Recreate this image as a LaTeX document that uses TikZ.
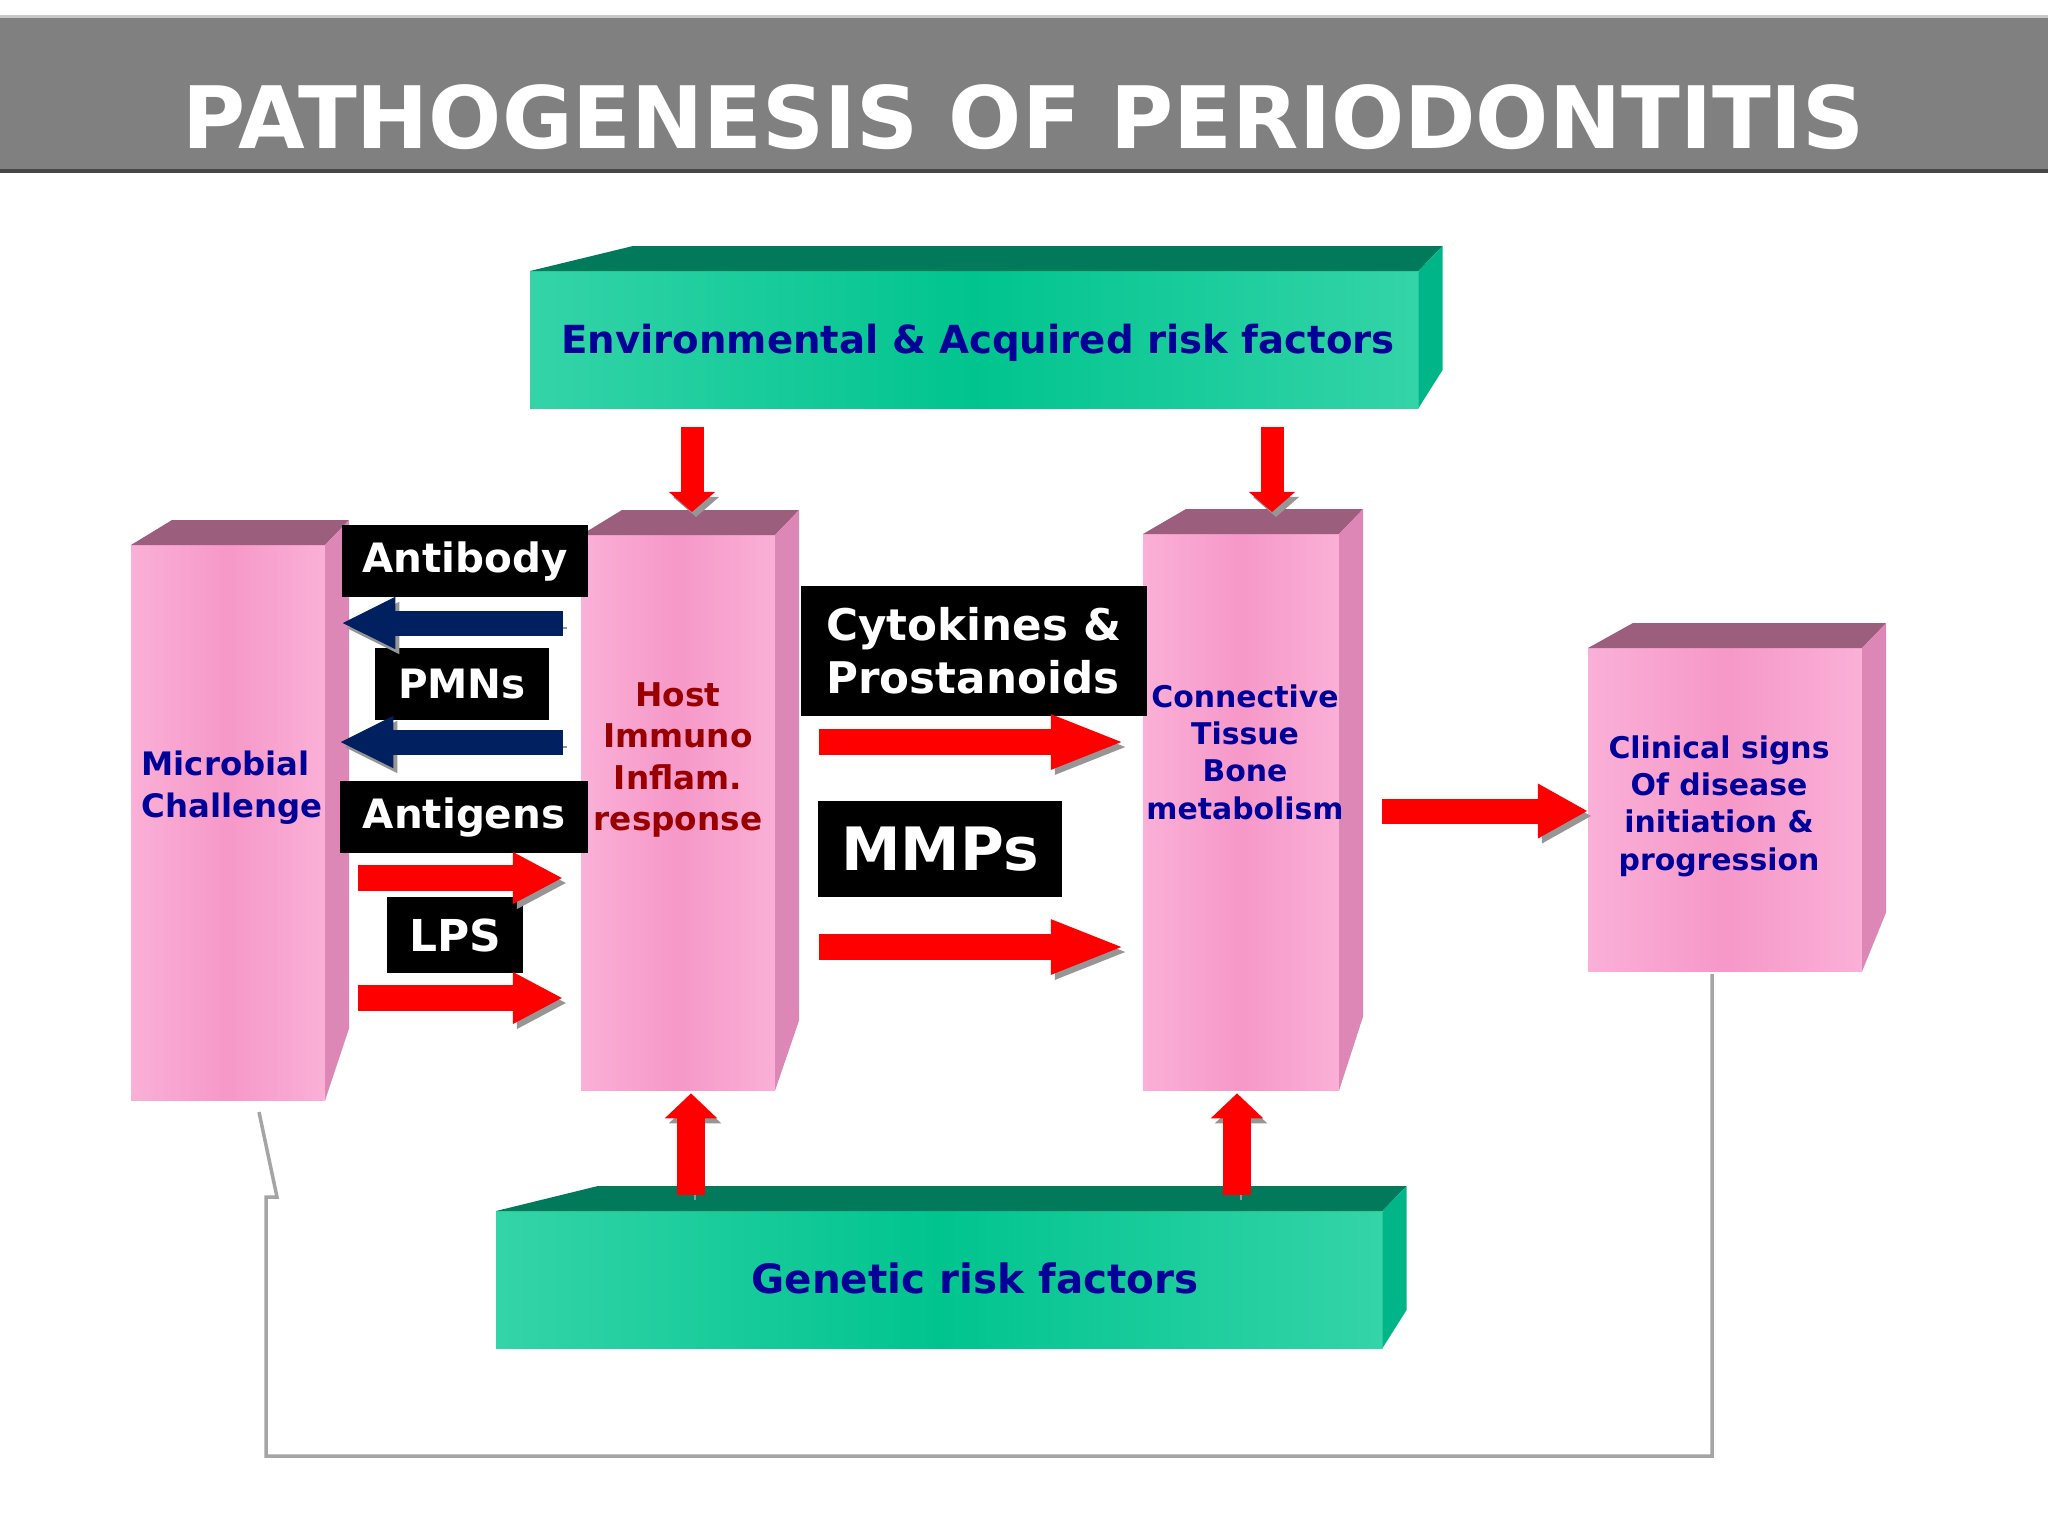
\documentclass[tikz,border=0pt]{standalone}
\usepackage{fontspec}
\setmainfont{DejaVu Sans}
\usetikzlibrary{calc,arrows.meta}

\definecolor{titlegrey}{RGB}{128,128,128}
\definecolor{titlelight}{RGB}{200,200,200}
\definecolor{titledark}{RGB}{70,70,70}
\definecolor{navytext}{RGB}{0,0,153}
\definecolor{hostred}{RGB}{153,0,0}
\definecolor{pinkedge}{RGB}{250,176,215}
\definecolor{pinkmid}{RGB}{246,152,200}
\definecolor{pinktop}{RGB}{156,94,125}
\definecolor{pinkside}{RGB}{221,135,183}
\definecolor{greenedge}{RGB}{52,212,168}
\definecolor{greenmid}{RGB}{0,196,142}
\definecolor{greentop}{RGB}{0,122,90}
\definecolor{greenside}{RGB}{0,181,136}
\definecolor{arrowred}{RGB}{255,0,0}
\definecolor{arrownavy}{RGB}{0,32,96}
\definecolor{shadowgrey}{RGB}{150,150,150}
\definecolor{linegrey}{RGB}{165,165,165}

% top and side faces of a box drawn behind its front node
\newcommand{\prismfaces}[5]{%
  \fill[#4] (#1.north west) -- ($(#1.north west)+(#2,-25)$)
    -- ($(#1.north east)+(24,-25)$) -- (#1.north east) -- cycle;
  \fill[#5] (#1.north east) -- ($(#1.north east)+(24,-25)$)
    -- ($(#1.south east)+(24,-#3)$) -- (#1.south east) -- cycle;
}

\begin{document}
\begin{tikzpicture}[x=0.01cm,y=-0.01cm]
    \tikzset{
        pinkbox/.style={anchor=north west, inner sep=0pt, outer sep=0pt,
            left color=pinkedge, right color=pinkedge, middle color=pinkmid},
        greenbox/.style={anchor=north west, inner sep=0pt, outer sep=0pt,
            left color=greenedge, right color=greenedge, middle color=greenmid},
        titletext/.style={anchor=base, inner sep=0pt, text=white,
            font=\bfseries\fontsize{24.5}{29}\selectfont},
        risktext/.style={anchor=base, inner sep=0pt, text=navytext,
            font=\bfseries\fontsize{11}{13}\selectfont},
        boxtext/.style={inner sep=0pt, align=center, text=navytext,
            font=\bfseries\fontsize{8.5}{10.6}\selectfont},
        blacklabel/.style={fill=black, text=white, inner sep=0pt,
            font=\bfseries\fontsize{11.5}{14}\selectfont},
        redarrow/.style={draw=arrowred, line width=0.26cm,
            -{Triangle[length=0.5cm,width=0.48cm]},
            preaction={draw=shadowgrey, transform canvas={shift={(0.04cm,-0.05cm)}}}},
        bluearrow/.style={redarrow, draw=arrownavy, line width=0.25cm,
            -{Triangle[length=0.54cm,width=0.48cm]}},
        feedback/.style={draw=linegrey, line width=0.035cm}
    }

    \useasboundingbox (0,0) rectangle (2048,1536);
    \fill[white] (0,0) rectangle (2048,1536);

    % title bar
    \fill[titlegrey] (0,16) rectangle (2048,170);
    \draw[titlelight, line width=0.03cm] (0,16) -- (2048,16);
    \draw[titledark, line width=0.04cm] (0,171) -- (2048,171);
    \node[titletext] (title) at (1024,148) {PATHOGENESIS OF PERIODONTITIS};

    % risk factor boxes
    \node[greenbox, minimum width=8.88cm, minimum height=1.37cm] (env) at (530,271) {};
    \prismfaces{env}{103}{38}{greentop}{greenside}
    \node[greenbox, minimum width=8.86cm, minimum height=1.37cm] (gen) at (496,1211) {};
    \prismfaces{gen}{102}{38}{greentop}{greenside}
    \node[risktext] (envtext) at (978,353) {Environmental \& Acquired risk factors};
    \node[risktext, font=\bfseries\fontsize{11.5}{13}\selectfont] (gentext) at (975,1293) {Genetic risk factors};

    % pink columns
    \node[pinkbox, minimum width=1.94cm, minimum height=5.55cm] (mic) at (131,545) {};
    \prismfaces{mic}{41}{72}{pinktop}{pinkside}
    \node[pinkbox, minimum width=1.94cm, minimum height=5.55cm] (host) at (581,535) {};
    \prismfaces{host}{41}{70}{pinktop}{pinkside}
    \node[pinkbox, minimum width=1.96cm, minimum height=5.56cm] (conn) at (1143,534) {};
    \prismfaces{conn}{43}{74}{pinktop}{pinkside}
    \node[pinkbox, minimum width=2.74cm, minimum height=3.23cm] (clin) at (1588,648) {};
    \prismfaces{clin}{45}{59}{pinktop}{pinkside}

    \node[boxtext, align=left, anchor=west, font=\bfseries\fontsize{9.2}{11.9}\selectfont]
        (mictext) at (141,788) {Microbial\\Challenge};
    \node[boxtext, text=hostred, font=\bfseries\fontsize{9.3}{11.7}\selectfont]
        (hosttext) at (678,760) {Host\\Immuno\\Inflam.\\response};
    \node[boxtext] (conntext) at (1245,752) {Connective\\Tissue\\Bone\\metabolism};
    \node[boxtext] (clintext) at (1719,806) {Clinical signs\\Of disease\\initiation \&\\progression};

    % mediator labels
    \node[blacklabel, minimum width=2.46cm, minimum height=0.72cm] (antibody) at (465,561) {Antibody};
    \node[blacklabel, minimum width=1.73cm, minimum height=0.72cm] (pmns) at (462,684) {PMNs};
    \node[blacklabel, minimum width=2.48cm, minimum height=0.71cm] (antigens) at (464,817) {Antigens};
    \node[blacklabel, minimum width=1.36cm, minimum height=0.76cm,
        font=\bfseries\fontsize{12.5}{15}\selectfont] (lps) at (455,935) {LPS};
    \node[blacklabel, minimum width=3.45cm, minimum height=1.3cm, align=left,
        font=\bfseries\fontsize{12.4}{15}\selectfont] (cyto) at (974,651) {Cytokines \&\\Prostanoids};
    \node[blacklabel, minimum width=2.43cm, minimum height=0.95cm,
        font=\bfseries\fontsize{17}{20}\selectfont] (mmps) at (940,849) {MMPs};

    % host response back to the microbes
    \coordinate (abA) at (563,623);
    \coordinate (abB) at (563,742);
    \draw[bluearrow] (abA) -- (abA -| antibody.west);
    \draw[bluearrow] (abB) -- (abB -| antigens.west);

    % microbial products into the host
    \coordinate (agA) at (358,878);
    \coordinate (agB) at (358,998);
    \draw[redarrow, shorten >=0.18cm] (agA) -- (agA -| host.west);
    \draw[redarrow, shorten >=0.18cm] (agB) -- (agB -| host.west);

    % mediators to tissue
    \coordinate (ckA) at (819,742);
    \coordinate (mmA) at (819,947);
    \draw[redarrow, -{Triangle[length=0.75cm,width=0.49cm]}, shorten >=0.17cm] (ckA) -- (ckA -| conn.west);
    \draw[redarrow, -{Triangle[length=0.75cm,width=0.49cm]}, shorten >=0.17cm] (mmA) -- (mmA -| conn.west);

    % tissue to clinical signs
    \coordinate (clA) at (1382,811);
    \draw[redarrow, line width=0.25cm, -{Triangle[length=0.5cm,width=0.51cm]}] (clA) -- (clA -| clin.west);

    % risk factors acting on host and tissue
    \coordinate (enA) at (692,427);
    \coordinate (enB) at (1272,427);
    \draw[redarrow, line width=0.23cm, -{Triangle[length=0.2cm,width=0.45cm]}, shorten >=0.23cm] (enA) -- (enA |- host.north);
    \draw[redarrow, line width=0.23cm, -{Triangle[length=0.2cm,width=0.45cm]}, shorten >=0.22cm] (enB) -- (enB |- conn.north);
    \coordinate (geA) at (691,1195);
    \coordinate (geB) at (1237,1195);
    \draw[redarrow, line width=0.28cm, -{Triangle[length=0.25cm,width=0.51cm]}, shorten >=0.03cm] (geA) -- (geA |- host.south);
    \draw[redarrow, line width=0.28cm, -{Triangle[length=0.25cm,width=0.51cm]}, shorten >=0.03cm] (geB) -- (geB |- conn.south);

    % feedback loop
    \coordinate (fbA) at (1712,974);
    \coordinate (fbD) at (259,1112);
    \draw[feedback] (fbA) |- (266,1456) |- (277,1197) -- (fbD);
\end{tikzpicture}
\end{document}
